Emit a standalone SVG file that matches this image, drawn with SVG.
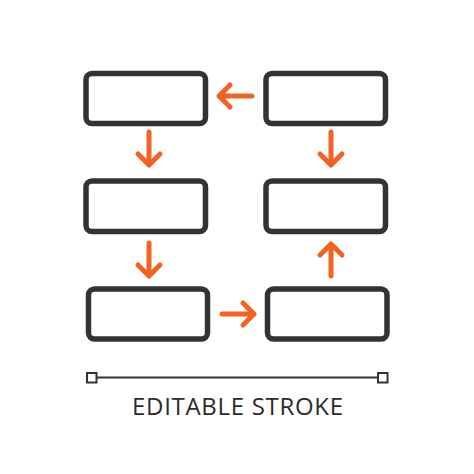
<svg xmlns="http://www.w3.org/2000/svg" width="474" height="474" viewBox="0 0 474 474">
<style>
.box{fill:#fff;stroke:#333;stroke-width:5.5}
.arr{fill:none;stroke:#f26322;stroke-width:5;stroke-linecap:round;stroke-linejoin:round}
.lbl{font-family:"Open Sans","Liberation Sans",sans-serif;font-size:24px;fill:#2b2b2b}
</style>
<rect width="474" height="474" fill="#fff"/>
<g id="n1"><rect class="box" x="86" y="73.5" width="119.5" height="50" rx="6"/></g>
<g id="n2"><rect class="box" x="266" y="73.5" width="119.5" height="50" rx="6"/></g>
<g id="n3"><rect class="box" x="86" y="181" width="119.5" height="50.5" rx="6"/></g>
<g id="n4"><rect class="box" x="266" y="181" width="119.5" height="50.5" rx="6"/></g>
<g id="n5"><rect class="box" x="88.5" y="289" width="119" height="50" rx="6"/></g>
<g id="n6"><rect class="box" x="267.5" y="289" width="119.5" height="50" rx="6"/></g>
<g id="connectors">
<path class="arr" d="M252 96H219M230 85L219 96L230 107"/>
<path class="arr" d="M149 132V165M138 154L149 165L160 154"/>
<path class="arr" d="M331 132V165M320 154L331 165L342 154"/>
<path class="arr" d="M149 243V276M138 265L149 276L160 265"/>
<path class="arr" d="M331 276V244M320 255L331 244L342 255"/>
<path class="arr" d="M222 314H254M243 303L254 314L243 325"/>
</g>
<g id="legend">
<line x1="96" y1="377.5" x2="378" y2="377.5" stroke="#333" stroke-width="2"/>
<rect x="87" y="373" width="9.5" height="9.5" fill="#fff" stroke="#333" stroke-width="2"/>
<rect x="378" y="373" width="9.5" height="9.5" fill="#fff" stroke="#333" stroke-width="2"/>
<text class="lbl" x="237.5" y="415" text-anchor="middle" textLength="211">EDITABLE STROKE</text>
</g>
</svg>
